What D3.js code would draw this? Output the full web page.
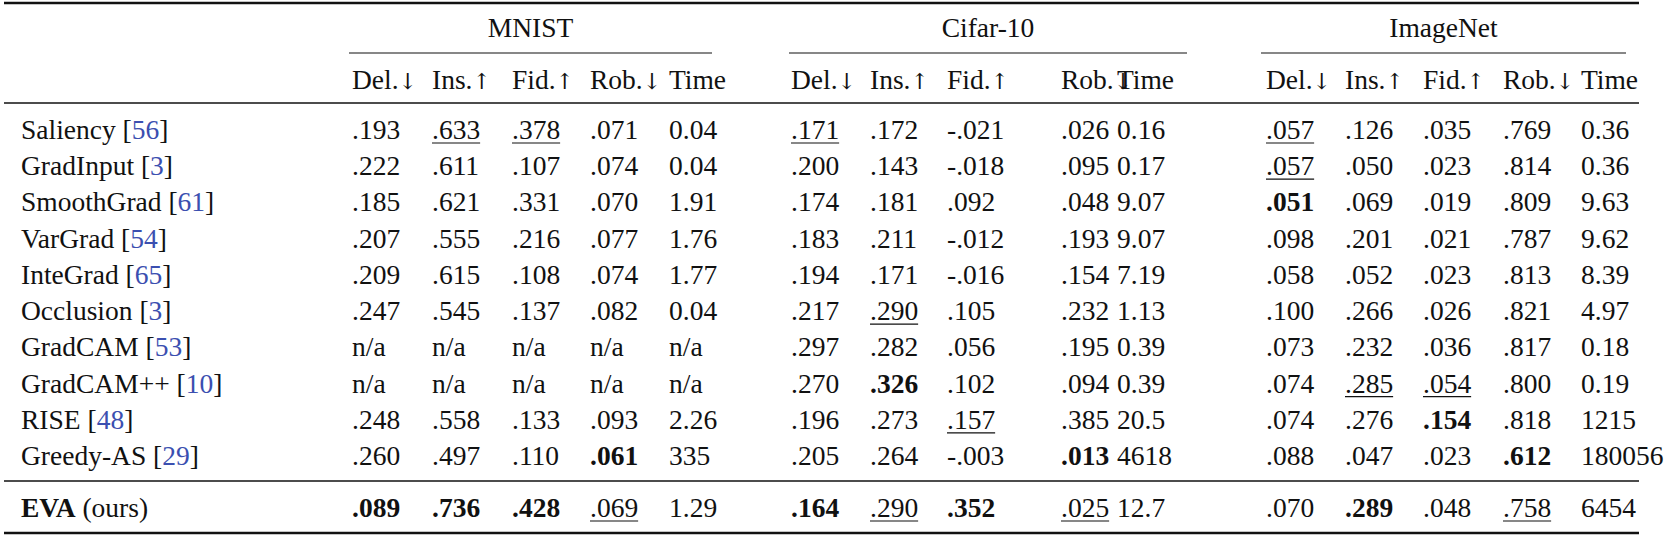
<!DOCTYPE html>
<html>
<head>
<meta charset="utf-8">
<script src="https://cdn.jsdelivr.net/npm/d3@7"></script>
<style>
  body { margin: 0; background: #fff; }
  text { font-family: "Liberation Serif", "Times New Roman", serif; font-size: 27.5px; fill: #111; }
</style>
</head>
<body>
<div id="table"></div>
<script>
var width = 1671, height = 536;

var datasets = ["MNIST", "Cifar-10", "ImageNet"];
var metrics = ["Del.\u2193", "Ins.\u2191", "Fid.\u2191", "Rob.\u2193", "Time"];

var methods = ["Saliency", "GradInput", "SmoothGrad", "VarGrad", "InteGrad", "Occlusion",
               "GradCAM", "GradCAM++", "RISE", "Greedy-AS"];
var refs = ["56", "3", "61", "54", "65", "3", "53", "10", "48", "29"];

var mnist = [
  [".193", ".633", ".378", ".071", "0.04"],
  [".222", ".611", ".107", ".074", "0.04"],
  [".185", ".621", ".331", ".070", "1.91"],
  [".207", ".555", ".216", ".077", "1.76"],
  [".209", ".615", ".108", ".074", "1.77"],
  [".247", ".545", ".137", ".082", "0.04"],
  ["n/a", "n/a", "n/a", "n/a", "n/a"],
  ["n/a", "n/a", "n/a", "n/a", "n/a"],
  [".248", ".558", ".133", ".093", "2.26"],
  [".260", ".497", ".110", ".061", "335"]
];
var cifar = [
  [".171", ".172", "-.021", ".026", "0.16"],
  [".200", ".143", "-.018", ".095", "0.17"],
  [".174", ".181", ".092", ".048", "9.07"],
  [".183", ".211", "-.012", ".193", "9.07"],
  [".194", ".171", "-.016", ".154", "7.19"],
  [".217", ".290", ".105", ".232", "1.13"],
  [".297", ".282", ".056", ".195", "0.39"],
  [".270", ".326", ".102", ".094", "0.39"],
  [".196", ".273", ".157", ".385", "20.5"],
  [".205", ".264", "-.003", ".013", "4618"]
];
var imagenet = [
  [".057", ".126", ".035", ".769", "0.36"],
  [".057", ".050", ".023", ".814", "0.36"],
  [".051", ".069", ".019", ".809", "9.63"],
  [".098", ".201", ".021", ".787", "9.62"],
  [".058", ".052", ".023", ".813", "8.39"],
  [".100", ".266", ".026", ".821", "4.97"],
  [".073", ".232", ".036", ".817", "0.18"],
  [".074", ".285", ".054", ".800", "0.19"],
  [".074", ".276", ".154", ".818", "1215"],
  [".088", ".047", ".023", ".612", "180056"]
];
var ours = [
  [".089", ".736", ".428", ".069", "1.29"],
  [".164", ".290", ".352", ".025", "12.7"],
  [".070", ".289", ".048", ".758", "6454"]
];

// [row, dataset, metric]; row 10 = EVA
var best = [[9,0,3],[7,1,1],[9,1,3],[2,2,0],[8,2,2],[9,2,3],
            [10,0,0],[10,0,1],[10,0,2],[10,1,0],[10,1,2],[10,2,1]];
var second = [[0,0,1],[0,0,2],[0,1,0],[5,1,1],[8,1,2],[0,2,0],[1,2,0],[7,2,1],[7,2,2],
              [10,0,3],[10,1,1],[10,1,3],[10,2,3]];

var colX = [[352, 432, 512, 590, 669], [791, 870, 947, 1061, 1117], [1266, 1345, 1423, 1503, 1581]];
var groupSpan = [[349, 712], [789, 1187], [1261, 1626]];

var y = d3.scaleLinear().domain([0, 9]).range([130, 456]);
function rowY(r) { return r === 10 ? 508 : y(r); }

var svg = d3.select("#table").append("svg").attr("width", width).attr("height", height);

function rule(y0, w) {
  svg.append("line").attr("x1", 4).attr("x2", 1639).attr("y1", y0).attr("y2", y0)
    .attr("stroke", "#111").attr("stroke-width", w);
}
rule(3, 2.6); rule(103, 1.6); rule(481, 1.6); rule(533, 2.6);

datasets.forEach(function(d, i) {
  var s = groupSpan[i];
  svg.append("text").attr("x", (s[0] + s[1]) / 2).attr("y", 37).attr("text-anchor", "middle").text(d);
  svg.append("line").attr("x1", s[0]).attr("x2", s[1]).attr("y1", 53).attr("y2", 53)
    .attr("stroke", "#111").attr("stroke-width", 1.2);
  metrics.forEach(function(m, j) {
    var t = svg.append("text").attr("x", colX[i][j]).attr("y", 89);
    if (j < 4) {
      t.append("tspan").text(m.slice(0, -1));
      t.append("tspan").style("font-family", "DejaVu Serif").style("font-size", "22px").text(m.slice(-1));
    } else t.text(m);
  });
});

function has(list, r, i, j) {
  return list.some(function(e) { return e[0] === r && e[1] === i && e[2] === j; });
}

var tables = [mnist, cifar, imagenet];
d3.range(11).forEach(function(r) {
  var by = rowY(r) + 9;
  var label = svg.append("text").attr("x", 21).attr("y", by);
  if (r < 10) {
    label.append("tspan").text(methods[r] + " [");
    label.append("tspan").style("fill", "#3b4fb0").text(refs[r]);
    label.append("tspan").text("]");
  } else {
    label.append("tspan").attr("font-weight", "bold").text("EVA");
    label.append("tspan").text(" (ours)");
  }
  tables.forEach(function(t, i) {
    var vals = r < 10 ? t[r] : ours[i];
    vals.forEach(function(v, j) {
      var txt = svg.append("text").attr("x", colX[i][j]).attr("y", by).text(v);
      if (has(best, r, i, j)) txt.attr("font-weight", "bold");
      if (has(second, r, i, j)) {
        var w = txt.node().getComputedTextLength();
        svg.append("line").attr("x1", colX[i][j]).attr("x2", colX[i][j] + w)
          .attr("y1", by + 4).attr("y2", by + 4).attr("stroke", "#111").attr("stroke-width", 1.2);
      }
    });
  });
});
</script>
</body>
</html>
